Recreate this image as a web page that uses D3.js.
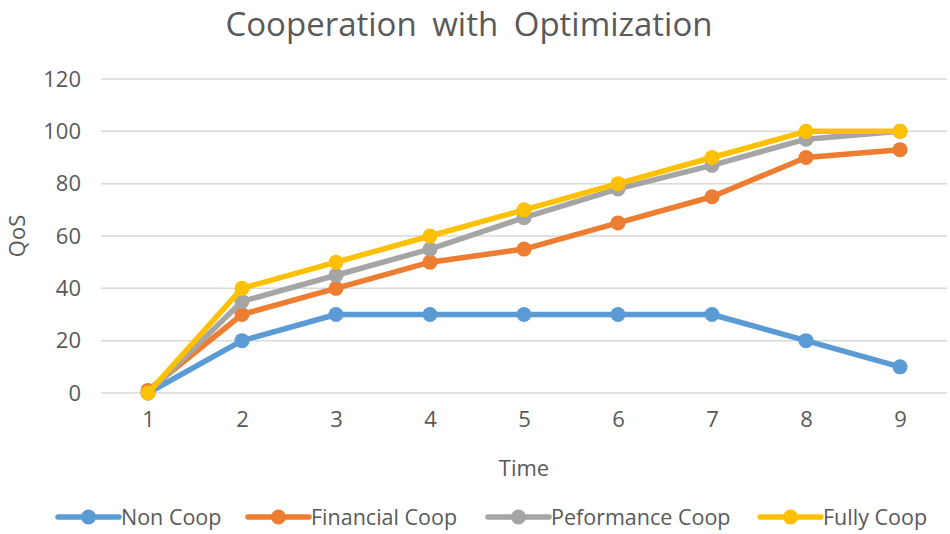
<!DOCTYPE html>
<html><head><meta charset="utf-8">
<script src="https://cdn.jsdelivr.net/npm/d3@7/dist/d3.min.js"></script>
<style>body{margin:0;background:#fff;} text{font-family:"Open Sans",sans-serif;fill:#595959;}</style>
</head><body>
<svg id="chart" width="950" height="534"></svg>
<script>
const categories = ["1","2","3","4","5","6","7","8","9"];
const yTicks = [0,20,40,60,80,100,120];
const seriesNames = ["Non Coop","Financial Coop","Peformance Coop","Fully Coop"];
const nonCoop = [0,20,30,30,30,30,30,20,10];
const financialCoop = [1,30,40,50,55,65,75,90,93];
const performanceCoop = [0,35,45,55,67,78,87,97,100];
const fullyCoop = [0,40,50,60,70,80,90,100,100];
const colors = ["#5B9BD5","#ED7D31","#A5A5A5","#FFC000"];
const seriesValues = [nonCoop, financialCoop, performanceCoop, fullyCoop];

const svg = d3.select("#chart");
const x = d3.scalePoint().domain(categories).range([148,900]);
const y = d3.scaleLinear().domain([0,120]).range([393,79]);

// gridlines
svg.append("g").selectAll("line").data(yTicks).join("line")
  .attr("x1",101).attr("x2",947)
  .attr("y1",d=>y(d)).attr("y2",d=>y(d))
  .attr("stroke","#D9D9D9").attr("stroke-width",1.5);

// y axis labels
const yAxis = d3.axisLeft(y).tickValues(yTicks).tickSize(0).tickPadding(0);
const gy = svg.append("g").attr("transform","translate(81,0)").call(yAxis);
gy.select(".domain").remove();
gy.selectAll("text").attr("font-size",22).attr("fill","#595959").attr("font-family","Open Sans");

// x axis labels
const xAxis = d3.axisBottom(x).tickSize(0).tickPadding(0);
const gx = svg.append("g").attr("transform","translate(0,411)").call(xAxis);
gx.select(".domain").remove();
gx.selectAll("text").attr("font-size",22).attr("fill","#595959").attr("font-family","Open Sans");

// title & axis titles
svg.append("text").attr("x",469).attr("y",36).attr("text-anchor","middle")
  .attr("font-size",33).style("word-spacing","7px").text("Cooperation with Optimization");
svg.append("text").attr("x",524).attr("y",476).attr("text-anchor","middle")
  .attr("font-size",22).text("Time");
svg.append("text").attr("transform","translate(25,236) rotate(-90)").attr("text-anchor","middle")
  .attr("font-size",22).text("QoS");

// lines
const line = d3.line().x((d,i)=>x(categories[i])).y(d=>y(d));
seriesValues.forEach((vals,si)=>{
  const g = svg.append("g");
  g.append("path").datum(vals).attr("d",line).attr("fill","none")
    .attr("stroke",colors[si]).attr("stroke-width",5.5).attr("stroke-linejoin","round");
  g.selectAll("circle").data(vals).join("circle")
    .attr("cx",(d,i)=>x(categories[i])).attr("cy",d=>y(d)).attr("r",7.5)
    .attr("fill",colors[si]);
});

// legend
const legendX = [58,248,488,760];
const lg = svg.append("g");
seriesNames.forEach((n,i)=>{
  const g = lg.append("g").attr("transform",`translate(${legendX[i]},517)`);
  g.append("line").attr("x1",0).attr("x2",61).attr("y1",0).attr("y2",0)
    .attr("stroke",colors[i]).attr("stroke-width",5.5).attr("stroke-linecap","round");
  g.append("circle").attr("cx",30.5).attr("cy",0).attr("r",7.5).attr("fill",colors[i]);
  g.append("text").attr("x",63).attr("y",8).attr("font-size",21.5).text(n);
});
</script>
</body></html>
